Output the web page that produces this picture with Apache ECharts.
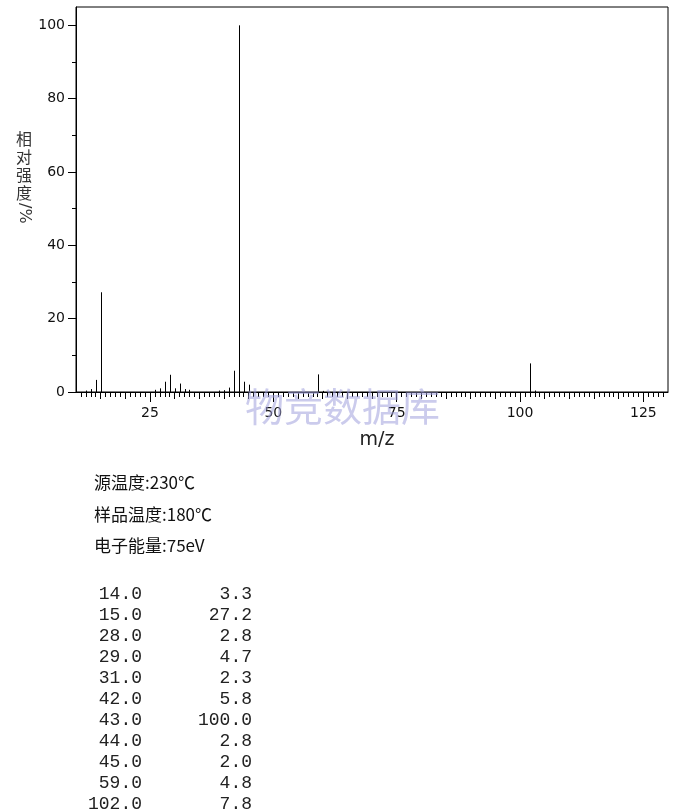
<!DOCTYPE html>
<html><head><meta charset="utf-8">
<script src="https://cdn.jsdelivr.net/npm/echarts@6/dist/echarts.min.js"></script>
<style>html,body{margin:0;padding:0;background:#fff}#c{width:687px;height:810px}</style>
</head><body><div id="c"></div>
<script>
// ---- data ----
const mzValues    = [12, 13, 14, 15, 26, 27, 28, 29, 30, 31, 32, 33, 39, 40, 41, 42, 43, 44, 45, 59, 60, 102, 103];
const intensities = [0.4, 0.8, 3.3, 27.2, 0.6, 1.0, 2.8, 4.7, 1.0, 2.3, 0.8, 0.6, 0.4, 0.5, 1.2, 5.8, 100.0, 2.8, 2.0, 4.8, 0.3, 7.8, 0.4];
const xTickLabels = [25, 50, 75, 100, 125];
const yTickLabels = [0, 20, 40, 60, 80, 100];
const yMinorTicks = [10, 30, 50, 70, 90];
const conditionLines = ['源温度:230℃', '样品温度:180℃', '电子能量:75eV'];
const yAxisTitleCJK = '相对强度';
const yAxisTitleUnit = '/%';
const xAxisTitle = 'm/z';
const watermark = '物竞数据库';
const tableThreshold = 2.0;

// tick positions (axis decoration)
const xMid = [], xMinor = [];
for (let v = 11; v < 130; v++) {
  if (v % 25 === 0) continue;
  if (v % 5 === 0) xMid.push(v); else xMinor.push(v);
}

const chart = echarts.init(document.getElementById('c'), null, {renderer: 'canvas'});
const black = '#000';
const baseX = (extra) => Object.assign({
  type: 'value', min: 10, max: 130, position: 'bottom', gridIndex: 0,
  splitLine: {show: false}, axisLine: {show: false}, axisLabel: {show: false}
}, extra);
const baseY = (extra) => Object.assign({
  type: 'value', min: 0, max: 105, position: 'left', gridIndex: 0,
  splitLine: {show: false}, axisLine: {show: false}, axisLabel: {show: false}
}, extra);

// graphics: texts
const graphics = [];
graphics.push({type: 'text', left: 16, top: 130, style: {
  text: yAxisTitleCJK.split('').join('\n'), font: '16px "Noto Sans CJK SC"', lineHeight: 18, fill: '#333'}});
graphics.push({type: 'text', x: 32, y: 203, rotation: -Math.PI / 2, style: {
  text: yAxisTitleUnit, font: '16px "DejaVu Sans"', fill: '#333'}});
graphics.push({type: 'text', x: 377, y: 440, style: {
  text: xAxisTitle, font: '19px "DejaVu Sans"', fill: '#222', align: 'center', verticalAlign: 'middle'}});
graphics.push({type: 'text', x: 245, y: 406, z: 100, style: {
  text: watermark, font: '39px "Noto Sans CJK SC"', fill: 'rgba(160,160,220,0.55)', verticalAlign: 'middle'}});
conditionLines.forEach((t, i) => {
  graphics.push({type: 'text', x: 94, y: 483 + i * 31.5, style: {
    text: t, font: '17px "Noto Sans CJK SC"', fill: '#111', verticalAlign: 'middle'}});
});
const rows = mzValues.map((m, i) => [m, intensities[i]]).filter(r => r[1] >= tableThreshold);
rows.forEach((r, i) => {
  const y = 594 + i * 21;
  graphics.push({type: 'text', x: 142, y: y, style: {
    text: r[0].toFixed(1), font: '18px "Liberation Mono"', fill: '#222', align: 'right', verticalAlign: 'middle'}});
  graphics.push({type: 'text', x: 252, y: y, style: {
    text: r[1].toFixed(1), font: '18px "Liberation Mono"', fill: '#222', align: 'right', verticalAlign: 'middle'}});
});

chart.setOption({
  animation: false,
  backgroundColor: '#fff',
  grid: {left: 76, right: 19, top: 7, bottom: 418, show: true, borderColor: black, borderWidth: 1, backgroundColor: 'transparent'},
  xAxis: [
    baseX({
      axisLine: {show: true, lineStyle: {color: black, width: 1}},
      axisTick: {show: true, customValues: xTickLabels, length: 10, lineStyle: {color: black}},
      axisLabel: {show: true, customValues: xTickLabels, margin: 14, color: '#111', fontSize: 14, fontFamily: '"DejaVu Sans"'}
    }),
    baseX({axisTick: {show: true, customValues: xMid, length: 7, lineStyle: {color: black}}}),
    baseX({axisTick: {show: true, customValues: xMinor, length: 5, lineStyle: {color: black}}})
  ],
  yAxis: [
    baseY({
      axisLine: {show: true, lineStyle: {color: black, width: 1}},
      axisTick: {show: true, customValues: yTickLabels, length: 8, lineStyle: {color: black}},
      axisLabel: {show: true, customValues: yTickLabels, margin: 11, color: '#111', fontSize: 14, fontFamily: '"DejaVu Sans"'}
    }),
    baseY({axisTick: {show: true, customValues: yMinorTicks, length: 4, lineStyle: {color: black}}})
  ],
  series: [{
    type: 'custom', xAxisIndex: 0, yAxisIndex: 0, silent: true,
    data: mzValues.map((m, i) => [m, intensities[i]]),
    renderItem: (params, api) => {
      const p0 = api.coord([api.value(0), 0]);
      const p1 = api.coord([api.value(0), api.value(1)]);
      const px = Math.round(p0[0]) + 0.5;
      return {type: 'line', shape: {x1: px, y1: p0[1], x2: px, y2: p1[1]}, style: {stroke: black, lineWidth: 1}};
    }
  }],
  graphic: graphics
});
</script></body></html>
